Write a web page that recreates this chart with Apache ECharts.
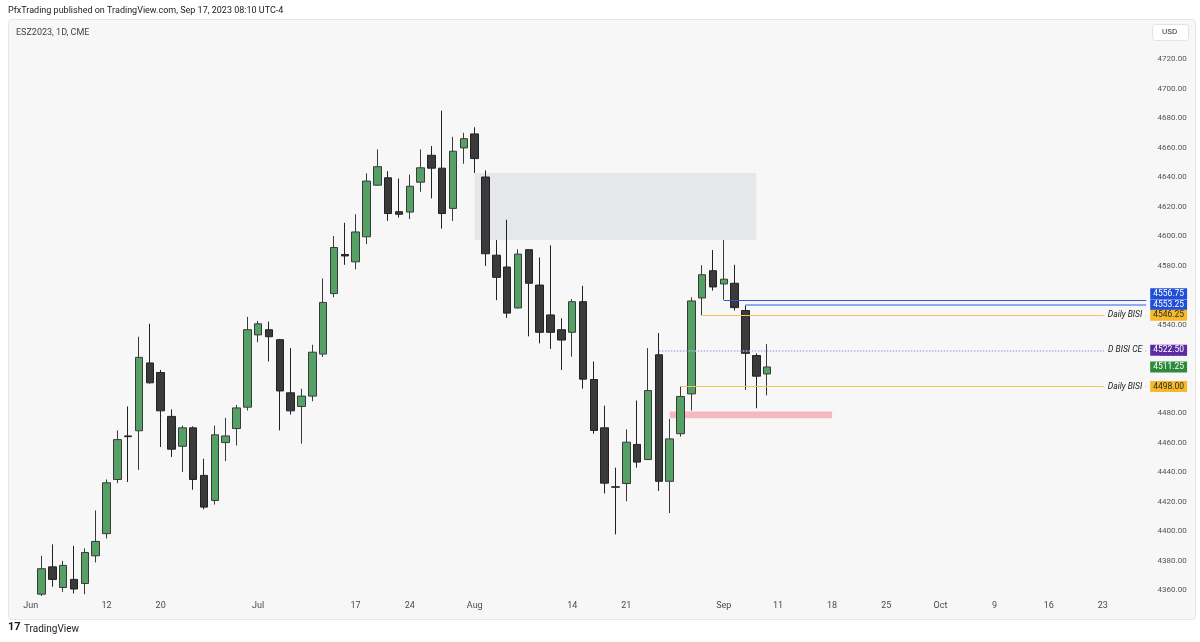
<!DOCTYPE html>
<html>
<head>
<meta charset="utf-8">
<title>ESZ2023, 1D, CME</title>
<script src="https://cdn.jsdelivr.net/npm/echarts@6/dist/echarts.min.js"></script>
<style>
  html, body { margin: 0; padding: 0; background: #ffffff; }
  #main { width: 1200px; height: 642px; }
</style>
</head>
<body>
<div id="main"></div>
<script>
// Trading sessions on the time scale, Jun 1 .. Oct 27 2023
const months = ['06', '07', '08', '09', '10'];
const monthDays = [
  [1, 2, 5, 6, 7, 8, 9, 12, 13, 14, 15, 16, 20, 21, 22, 23, 26, 27, 28, 29, 30],
  [3, 5, 6, 7, 10, 11, 12, 13, 14, 17, 18, 19, 20, 21, 24, 25, 26, 27, 28, 31],
  [1, 2, 3, 4, 7, 8, 9, 10, 11, 14, 15, 16, 17, 18, 21, 22, 23, 24, 25, 28, 29, 30, 31],
  [1, 5, 6, 7, 8, 11, 12, 13, 14, 15, 18, 19, 20, 21, 22, 25, 26, 27, 28, 29],
  [2, 3, 4, 5, 6, 9, 10, 11, 12, 13, 16, 17, 18, 19, 20, 23, 24, 25, 26, 27]
];

// labels printed under the time scale
const tickLabels = {
  '2023-06-01': 'Jun', '2023-06-12': '12', '2023-06-20': '20',
  '2023-07-03': 'Jul', '2023-07-17': '17', '2023-07-24': '24',
  '2023-08-01': 'Aug', '2023-08-14': '14', '2023-08-21': '21',
  '2023-09-01': 'Sep', '2023-09-11': '11', '2023-09-18': '18', '2023-09-25': '25',
  '2023-10-02': 'Oct', '2023-10-09': '9', '2023-10-16': '16', '2023-10-23': '23'
};

// daily candles, first one is Jun 2 (Jun 1 is below the visible range)
const firstCandle = '2023-06-02';
const open = [
  4357.25, 4375.75, 4361.75, 4367.25, 4364.5, 4383.25, 4398.25, 4435, 4464.5, 4468,
  4514, 4507.5, 4477.75, 4457.5, 4470, 4437.75, 4420.75, 4460, 4469.5, 4484,
  4533, 4536.5, 4529.75, 4493.75, 4484.5, 4491.5, 4520, 4561, 4587.5, 4582.5,
  4599.5, 4634.5, 4639.5, 4616.5, 4616.25, 4636.5, 4654.75, 4646, 4618.75, 4659.75,
  4669.25, 4640, 4587, 4579, 4551.25, 4590.75, 4566.75, 4546.5, 4536.5, 4534.75,
  4555.5, 4502.75, 4470, 4430, 4432.25, 4458.75, 4448.5, 4519.5, 4433.75, 4466,
  4493, 4558, 4576.5, 4567.5, 4568, 4549.5, 4519, 4506.5
];
const close = [
  4374.5, 4367.25, 4376.75, 4360.75, 4385.5, 4393, 4432.75, 4462, 4464, 4517.75,
  4500.5, 4481.5, 4455.5, 4470, 4435, 4416.25, 4465.25, 4464.5, 4483.5, 4536.5,
  4540.5, 4531.75, 4495, 4481.5, 4491.5, 4521.25, 4555, 4592.25, 4586.5, 4602.75,
  4637.25, 4647, 4615.25, 4614.75, 4633.75, 4646.25, 4646, 4615.25, 4657.5, 4666,
  4652.5, 4588, 4572, 4547.75, 4587.75, 4568, 4534.75, 4534.75, 4529.5, 4555.5,
  4503, 4468.25, 4432.5, 4429.75, 4460.25, 4446.75, 4495.25, 4433.75, 4462.5, 4491.25,
  4556, 4573.75, 4565.5, 4570.75, 4551.5, 4520.5, 4505, 4511.25
];
const low = [
  4356, 4362.25, 4358.75, 4357.75, 4357.25, 4378.75, 4395, 4432.5, 4433.25, 4441.5,
  4500, 4457, 4450.25, 4440, 4428, 4414.75, 4418, 4447.5, 4458, 4481.75,
  4528, 4515, 4468.25, 4479, 4459.25, 4488, 4518, 4558.5, 4580.5, 4577.5,
  4594.5, 4634, 4610.25, 4612.5, 4611.5, 4630, 4625.5, 4605, 4610.25, 4649,
  4642.75, 4579.75, 4556.5, 4544.5, 4551, 4532, 4527.25, 4523.5, 4509.25, 4518.25,
  4496.5, 4466, 4425.5, 4397.75, 4420.25, 4443, 4448.25, 4427.25, 4412.25, 4464,
  4481.75, 4546.25, 4563, 4556.75, 4549.5, 4495.75, 4483.25, 4492
];
const high = [
  4383.25, 4391, 4379.75, 4390, 4388.25, 4414, 4435, 4468.25, 4484.5, 4531.75,
  4540.5, 4509.25, 4482.5, 4471.5, 4471, 4449, 4471.5, 4476.75, 4485.5, 4545.25,
  4542.5, 4542, 4530.25, 4524, 4496.5, 4526.25, 4571.25, 4600, 4609, 4614.75,
  4642.5, 4658.75, 4644, 4639, 4641.75, 4658.75, 4661, 4685, 4667.25, 4670,
  4673.75, 4644.5, 4597.25, 4611, 4591, 4591, 4585.5, 4593.75, 4544.25, 4557.25,
  4566.25, 4515, 4485, 4443, 4469, 4488.5, 4524, 4534.25, 4476, 4498,
  4558.5, 4580.25, 4590.5, 4597.25, 4580.5, 4553.25, 4520.5, 4526.75
];

// horizontal levels drawn on the chart
const levelPrices = [4556.75, 4553.25, 4546.25, 4522.5, 4511.25, 4498];
const levelStarts = ['2023-09-01', '2023-09-06', '2023-08-30', '2023-08-24', '2023-09-08', '2023-08-28'];
const levelNames = ['', '', 'Daily BISI', 'D BISI CE', '', 'Daily BISI'];

// shaded zones
const zoneFrom = ['2023-08-01', '2023-08-25'];
const zoneTo = ['2023-09-07', '2023-09-18'];
const zoneLow = [4597.25, 4476.5];
const zoneHigh = [4642.75, 4481];

const categories = [];
months.forEach(function (m, j) {
  monthDays[j].forEach(function (d) {
    categories.push('2023-' + m + '-' + String(d).padStart(2, '0'));
  });
});
const lastDay = categories[categories.length - 1];

const offset = categories.indexOf(firstCandle);
const candles = categories.map(function (c, i) {
  const k = i - offset;
  if (k < 0 || k >= open.length) return '-';
  return [open[k], close[k], low[k], high[k]];
});

const panelBg = '#f7f7f7';
const levelStyle = [
  { line: '#2d57d6', width: 1, type: 'solid', box: '#1f4fd6', text: '#ffffff', dy: -6 },
  { line: '#93abee', width: 2, type: 'solid', box: '#1f4fd6', text: '#ffffff', dy: 0 },
  { line: '#f3c25a', width: 1, type: 'solid', box: '#f7b928', text: '#2b2b2b', dy: 0 },
  { line: '#b7aee8', width: 1.5, type: 'dotted', box: '#5b2ca6', text: '#ffffff', dy: 0 },
  { line: 'rgba(0,0,0,0)', width: 0, type: 'solid', box: '#2e8b3e', text: '#ffffff', dy: 0 },
  { line: '#f3c25a', width: 1, type: 'solid', box: '#f7b928', text: '#2b2b2b', dy: 0 }
];

const lineItems = [];
levelPrices.forEach(function (p, i) {
  const s = levelStyle[i];
  lineItems.push([
    {
      coord: [levelStarts[i], p],
      lineStyle: { color: s.line, width: s.width, type: s.type },
      label: {
        show: true,
        position: 'end',
        distance: 4,
        offset: [0, s.dy],
        formatter: p.toFixed(2),
        backgroundColor: s.box,
        color: s.text,
        fontFamily: 'Roboto',
        fontSize: 8.5,
        lineHeight: 11,
        padding: [0, 3, 0, 3]
      }
    },
    { coord: [lastDay, p] }
  ]);
});
// names written at the right end of the levels
levelPrices.forEach(function (p, i) {
  if (!levelNames[i]) return;
  lineItems.push([
    {
      coord: [levelStarts[i], p],
      lineStyle: { color: 'rgba(0,0,0,0)', width: 0 },
      label: {
        show: true,
        position: 'insideEnd',
        distance: 1,
        formatter: levelNames[i],
        backgroundColor: panelBg,
        color: '#222222',
        fontStyle: 'italic',
        fontFamily: 'Roboto',
        fontSize: 8.5,
        padding: [1, 3, 1, 4]
      }
    },
    { coord: [lastDay, p] }
  ]);
});

const zoneColors = ['#e6e7eb', '#f5b7c0'];
const areaItems = zoneFrom.map(function (f, i) {
  return [
    { coord: [f, zoneHigh[i]], itemStyle: { color: zoneColors[i] } },
    { coord: [zoneTo[i], zoneLow[i]] }
  ];
});

const chart = echarts.init(document.getElementById('main'), null, { renderer: 'canvas' });

const option = {
  animation: false,
  backgroundColor: '#ffffff',
  textStyle: { fontFamily: 'Roboto' },
  graphic: [
    {
      type: 'rect', z: -100, silent: true,
      shape: { x: 8.5, y: 19.5, width: 1187, height: 600, r: 3 },
      style: { fill: panelBg, stroke: '#e6e6e6', lineWidth: 1 }
    },
    {
      type: 'text', left: 8, top: 6,
      style: { text: 'PfxTrading published on TradingView.com, Sep 17, 2023 08:10 UTC-4', fill: '#222222', font: '9px Roboto' }
    },
    {
      type: 'text', left: 16, top: 28,
      style: { text: 'ESZ2023, 1D, CME', fill: '#444444', font: '9px Roboto' }
    },
    {
      type: 'rect', z: 10, silent: true,
      shape: { x: 1152.5, y: 24.5, width: 36, height: 16, r: 3 },
      style: { fill: '#ffffff', stroke: '#e3e3e3', lineWidth: 1 }
    },
    {
      type: 'text', z: 11, left: 1162, top: 28,
      style: { text: 'USD', fill: '#333333', font: '8px Roboto' }
    },
    {
      type: 'text', left: 8, top: 622,
      style: { text: '17', fill: '#131722', font: 'bold 11px Roboto' }
    },
    {
      type: 'text', left: 24, top: 624,
      style: { text: 'TradingView', fill: '#222222', font: '10px Roboto' }
    }
  ],
  grid: {
    left: 25.3,
    right: 48.4,
    top: -1.44,
    bottom: 22.4
  },
  xAxis: {
    type: 'category',
    data: categories,
    boundaryGap: true,
    axisLine: { show: false },
    axisTick: { show: false },
    splitLine: { show: false },
    axisLabel: {
      inside: true,
      margin: 9,
      fontSize: 9,
      color: '#4a4a4a',
      interval: function (index, value) {
        return tickLabels[value] !== undefined;
      },
      formatter: function (value) {
        return tickLabels[value] || '';
      }
    }
  },
  yAxis: {
    type: 'value',
    position: 'right',
    min: 4340,
    max: 4760,
    interval: 20,
    axisLine: { show: false },
    axisTick: { show: false },
    splitLine: { show: false },
    axisLabel: {
      margin: 6,
      fontSize: 8,
      color: '#555555',
      formatter: function (v) {
        return v < 4360 || v > 4720 ? '' : v.toFixed(2);
      }
    }
  },
  series: [
    {
      type: 'candlestick',
      data: candles,
      barWidth: 8,
      itemStyle: {
        color: '#55a165',
        color0: '#3a3a3a',
        borderColor: '#3a3a3a',
        borderColor0: '#222222',
        borderWidth: 1
      },
      markArea: {
        silent: true,
        data: areaItems
      },
      markLine: {
        silent: true,
        symbol: ['none', 'none'],
        animation: false,
        data: lineItems
      }
    }
  ]
};

chart.setOption(option);
</script>
</body>
</html>
